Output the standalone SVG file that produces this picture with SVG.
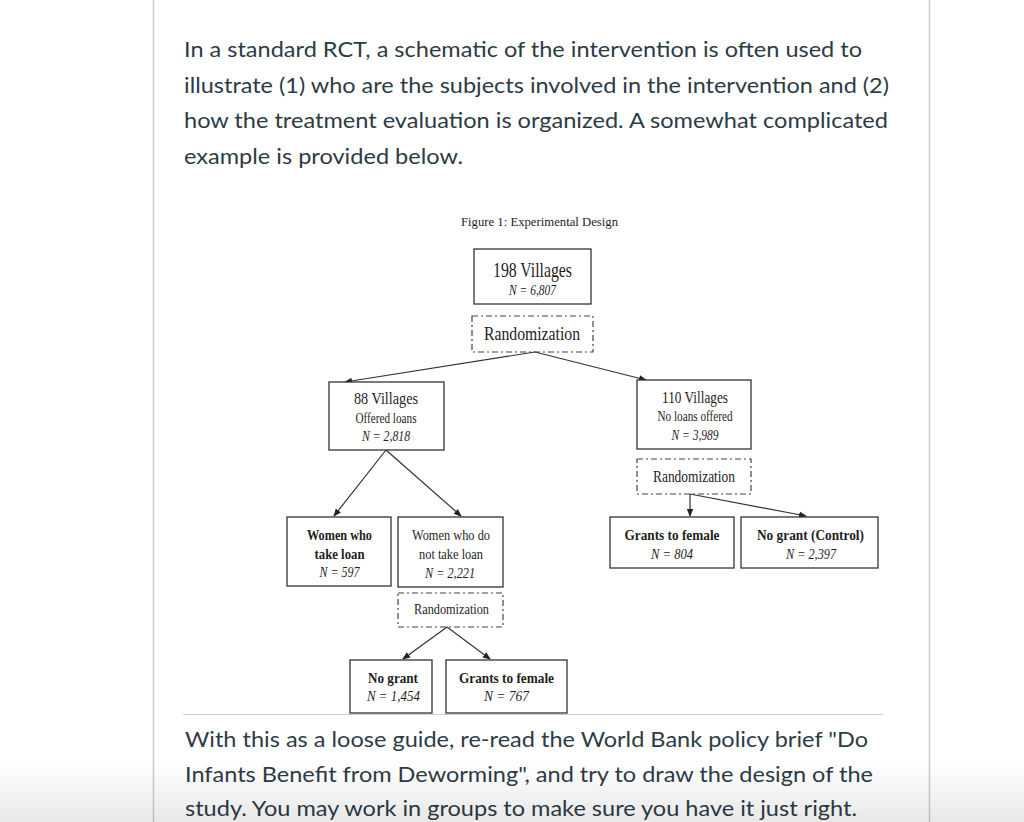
<svg xmlns="http://www.w3.org/2000/svg" width="1024" height="822" viewBox="0 0 1024 822">
<style>
.page{font-family:Lato,"Open Sans",sans-serif;font-size:21.5px;fill:#2d3b45}
.s{font-family:"Liberation Serif","Times New Roman",serif;fill:#1e1e1e}
.b{font-weight:bold}
.i{font-style:italic}
.box{fill:#fff;stroke:#333;stroke-width:1.3}
.dash{fill:none;stroke:#444;stroke-width:1.2;stroke-dasharray:6 3 2 3}
.con line{stroke:#333;stroke-width:1.2;marker-end:url(#ah)}
</style>
<defs>
<marker id="ah" markerWidth="8" markerHeight="8" refX="7" refY="4" orient="auto" markerUnits="userSpaceOnUse">
<path d="M0,0.8 L8,4 L0,7.2 Z" fill="#222"/>
</marker>
<linearGradient id="fade" x1="0" y1="0" x2="0" y2="1">
<stop offset="0" stop-color="#000" stop-opacity="0"/>
<stop offset="1" stop-color="#000" stop-opacity="0.09"/>
</linearGradient>
</defs>
<rect width="1024" height="822" fill="#fff"/>
<line x1="153.5" y1="0" x2="153.5" y2="822" stroke="#c7cdd1" stroke-width="1.5"/>
<line x1="929.5" y1="0" x2="929.5" y2="822" stroke="#c7cdd1" stroke-width="1.5"/>

<g id="intro" class="page">
<text x="184" y="57" textLength="678" lengthAdjust="spacingAndGlyphs">In a standard RCT, a schematic of the intervention is often used to</text>
<text x="184" y="93" textLength="705" lengthAdjust="spacingAndGlyphs">illustrate (1) who are the subjects involved in the intervention and (2)</text>
<text x="184" y="128" textLength="704" lengthAdjust="spacingAndGlyphs">how the treatment evaluation is organized. A somewhat complicated</text>
<text x="184" y="164" textLength="279" lengthAdjust="spacingAndGlyphs">example is provided below.</text>
</g>

<g id="caption"><text class="s" x="539.5" y="226" font-size="13" text-anchor="middle" textLength="157" lengthAdjust="spacingAndGlyphs">Figure 1: Experimental Design</text></g>

<g id="connectors" class="con">
<line x1="535" y1="352" x2="345" y2="382"/>
<line x1="535" y1="352" x2="646" y2="380"/>
<line x1="386" y1="450" x2="334" y2="516"/>
<line x1="386" y1="450" x2="461" y2="516"/>
<line x1="690" y1="494" x2="690" y2="516"/>
<line x1="690" y1="494" x2="806" y2="516"/>
<line x1="447" y1="627" x2="403" y2="659"/>
<line x1="447" y1="627" x2="490" y2="659"/>
</g>

<g id="n198">
<rect class="box" x="474" y="249" width="117" height="55"/>
<text class="s" x="532.5" y="277" font-size="21" text-anchor="middle" textLength="79" lengthAdjust="spacingAndGlyphs">198 Villages</text>
<text class="s i" x="532.5" y="295" font-size="14" text-anchor="middle" textLength="47" lengthAdjust="spacingAndGlyphs">N = 6,807</text>
</g>

<g id="rand1">
<rect class="dash" x="472" y="316" width="121" height="36"/>
<text class="s" x="532" y="340" font-size="19" text-anchor="middle" textLength="96" lengthAdjust="spacingAndGlyphs">Randomization</text>
</g>

<g id="n88">
<rect class="box" x="329" y="382" width="115" height="68"/>
<text class="s" x="386" y="404" font-size="17" text-anchor="middle" textLength="64" lengthAdjust="spacingAndGlyphs">88 Villages</text>
<text class="s" x="386" y="423" font-size="14.5" text-anchor="middle" textLength="61" lengthAdjust="spacingAndGlyphs">Offered loans</text>
<text class="s i" x="386" y="441" font-size="14.5" text-anchor="middle" textLength="48" lengthAdjust="spacingAndGlyphs">N = 2,818</text>
</g>

<g id="n110">
<rect class="box" x="637" y="380" width="114" height="69"/>
<text class="s" x="695" y="403" font-size="17" text-anchor="middle" textLength="66" lengthAdjust="spacingAndGlyphs">110 Villages</text>
<text class="s" x="695" y="421" font-size="14.5" text-anchor="middle" textLength="75" lengthAdjust="spacingAndGlyphs">No loans offered</text>
<text class="s i" x="695" y="440" font-size="14.5" text-anchor="middle" textLength="47" lengthAdjust="spacingAndGlyphs">N = 3,989</text>
</g>

<g id="rand2">
<rect class="dash" x="637" y="459" width="114" height="35"/>
<text class="s" x="694" y="482" font-size="16" text-anchor="middle" textLength="82" lengthAdjust="spacingAndGlyphs">Randomization</text>
</g>

<g id="takeloan">
<rect class="box" x="287" y="517" width="104" height="69"/>
<text class="s b" x="339.5" y="540" font-size="15" text-anchor="middle" textLength="65" lengthAdjust="spacingAndGlyphs">Women who</text>
<text class="s b" x="339.5" y="559" font-size="15" text-anchor="middle" textLength="50" lengthAdjust="spacingAndGlyphs">take loan</text>
<text class="s i" x="339.5" y="577" font-size="14.5" text-anchor="middle" textLength="40" lengthAdjust="spacingAndGlyphs">N = 597</text>
</g>

<g id="notakeloan">
<rect class="box" x="398" y="517" width="105" height="70"/>
<text class="s" x="451" y="540" font-size="15" text-anchor="middle" textLength="78" lengthAdjust="spacingAndGlyphs">Women who do</text>
<text class="s" x="451" y="559" font-size="15" text-anchor="middle" textLength="64" lengthAdjust="spacingAndGlyphs">not take loan</text>
<text class="s i" x="450" y="578" font-size="15" text-anchor="middle" textLength="50" lengthAdjust="spacingAndGlyphs">N = 2,221</text>
</g>

<g id="grantsR">
<rect class="box" x="610" y="517" width="124" height="51"/>
<text class="s b" x="672" y="540" font-size="15.5" text-anchor="middle" textLength="95" lengthAdjust="spacingAndGlyphs">Grants to female</text>
<text class="s i" x="672" y="559" font-size="15" text-anchor="middle" textLength="42" lengthAdjust="spacingAndGlyphs">N = 804</text>
</g>

<g id="control">
<rect class="box" x="741" y="517" width="137" height="51"/>
<text class="s b" x="810.5" y="540" font-size="15.5" text-anchor="middle" textLength="107" lengthAdjust="spacingAndGlyphs">No grant (Control)</text>
<text class="s i" x="811" y="559" font-size="15" text-anchor="middle" textLength="50" lengthAdjust="spacingAndGlyphs">N = 2,397</text>
</g>

<g id="rand3">
<rect class="dash" x="398" y="593" width="105" height="34"/>
<text class="s" x="451.5" y="614" font-size="15" text-anchor="middle" textLength="75" lengthAdjust="spacingAndGlyphs">Randomization</text>
</g>

<g id="nogrant">
<rect class="box" x="350" y="660" width="82" height="53"/>
<text class="s b" x="393" y="683" font-size="15.5" text-anchor="middle" textLength="50" lengthAdjust="spacingAndGlyphs">No grant</text>
<text class="s i" x="393.5" y="701" font-size="15" text-anchor="middle" textLength="53" lengthAdjust="spacingAndGlyphs">N = 1,454</text>
</g>

<g id="grantsB">
<rect class="box" x="446" y="660" width="121" height="53"/>
<text class="s b" x="506.5" y="683" font-size="15.5" text-anchor="middle" textLength="95" lengthAdjust="spacingAndGlyphs">Grants to female</text>
<text class="s i" x="506.5" y="701" font-size="15" text-anchor="middle" textLength="45" lengthAdjust="spacingAndGlyphs">N = 767</text>
</g>

<line x1="183" y1="714.5" x2="883" y2="714.5" stroke="#c7cdd1" stroke-width="1.2"/>

<g id="outro" class="page">
<text x="185" y="747" textLength="683" lengthAdjust="spacingAndGlyphs">With this as a loose guide, re-read the World Bank policy brief "Do</text>
<text x="185" y="782" textLength="688" lengthAdjust="spacingAndGlyphs">Infants Benefit from Deworming", and try to draw the design of the</text>
<text x="185" y="816" textLength="672" lengthAdjust="spacingAndGlyphs">study. You may work in groups to make sure you have it just right.</text>
</g>
<rect x="0" y="762" width="1024" height="60" fill="url(#fade)"/>
</svg>
